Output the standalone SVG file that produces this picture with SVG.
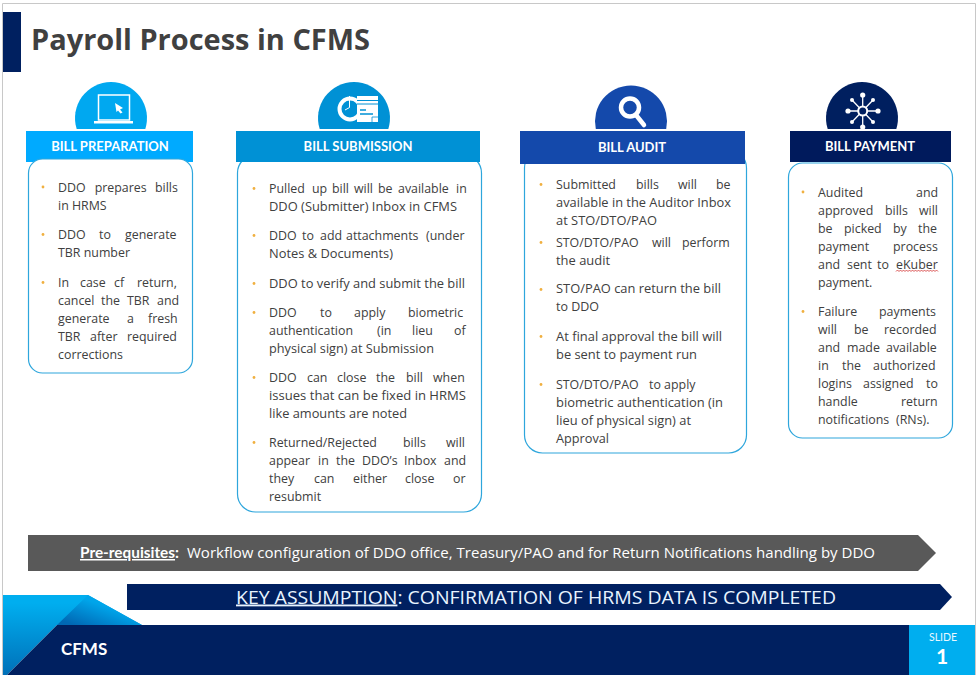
<svg xmlns="http://www.w3.org/2000/svg" width="978" height="675" viewBox="0 0 978 675">
<style>
.t{font-family:"Open Sans","Noto Sans",sans-serif;font-size:12.4px;fill:#404040}
.h{font-family:"Lato","Open Sans",sans-serif;font-size:13px;font-weight:700;fill:#fff;text-anchor:middle}
.p{fill:#fff;stroke:#2ea6dc;stroke-width:1.2}
.b{fill:#f0b040}
.w{fill:#fff}
.ol{fill:none;stroke:#fff}
</style>
<defs>
<linearGradient id="g1" x1="0" y1="0" x2="0" y2="1"><stop offset="0.1" stop-color="#00aeef"/><stop offset="1" stop-color="#0070b8"/></linearGradient>
<linearGradient id="g2" x1="0.2" y1="1" x2="0.7" y2="0.5"><stop offset="0" stop-color="#0068b4"/><stop offset="1" stop-color="#00a5ea"/></linearGradient>
</defs>
<rect x="0" y="0" width="978" height="675" fill="#fff"/>
<path d="M2.5 675V3.500H975.500V675" fill="none" stroke="#c8c8c8"/>
<g id="title">
<rect x="3" y="12" width="18" height="60" fill="#002060"/>
<text x="31" y="50" font-family="Open Sans" font-size="28.500px" font-weight="700" fill="#404040" textLength="339" lengthAdjust="spacingAndGlyphs">Payroll Process in CFMS</text>
</g>

<g id="bill-preparation">
<path d="M76.700 129A36 36 0 1 1 145.300 129Z" fill="#00a8f0"/>
<rect x="98.500" y="95" width="31" height="25" class="ol" stroke-width="1.500"/>
<rect x="94" y="121" width="39" height="2.500" class="w"/>
<path d="M115 103L123 108L120 109.500L122.500 112.500L120.500 113.500L118 110.500L116.500 112Z" class="w"/>
<rect x="26" y="131" width="167" height="31" fill="#00aaff"/>
<text x="110" y="151" class="h">BILL PREPARATION</text>
<rect x="28.500" y="159" width="164" height="214" rx="14" class="p"/>
<circle cx="43" cy="187" r="1.400" class="b"/><circle cx="43" cy="234.500" r="1.400" class="b"/><circle cx="43" cy="282.500" r="1.400" class="b"/>
<text class="t" y="192"><tspan x="58">DDO </tspan><tspan x="94.700">prepares </tspan><tspan x="155">bills</tspan></text>
<text class="t" y="210" x="58">in HRMS</text>
<text class="t" y="239"><tspan x="58">DDO </tspan><tspan x="99">to </tspan><tspan x="125">generate</tspan></text>
<text class="t" y="257" x="58">TBR number</text>
<text class="t" y="287"><tspan x="58">In </tspan><tspan x="80">case </tspan><tspan x="114">cf </tspan><tspan x="137">return,</tspan></text>
<text class="t" y="305"><tspan x="58">cancel </tspan><tspan x="101">the </tspan><tspan x="127">TBR </tspan><tspan x="157">and</tspan></text>
<text class="t" y="323"><tspan x="58">generate </tspan><tspan x="127">a </tspan><tspan x="148">fresh</tspan></text>
<text class="t" y="341"><tspan x="58">TBR </tspan><tspan x="90">after </tspan><tspan x="127">required</tspan></text>
<text class="t" y="359" x="58">corrections</text>
</g>

<g id="bill-submission">
<path d="M319.700 129A36 36 0 1 1 388.300 129Z" fill="#0091d5"/>
<circle cx="350" cy="109" r="10.500" class="ol" stroke-width="4"/>
<path d="M349.500 96V107.500L345 110" class="ol"/>
<rect x="357" y="96" width="21" height="26" class="w"/>
<path d="M357 100.500H378M357 104H378" fill="none" stroke="#0091d5"/>
<path d="M360 110H366M360 114H373" fill="none" stroke="#0091d5" stroke-width="1.500"/>
<path d="M372 122V117H378" fill="none" stroke="#0091d5" stroke-width="0.800"/>
<rect x="237.500" y="155" width="244" height="357" rx="18" class="p"/>
<rect x="236" y="131" width="244" height="31" fill="#0091d5"/>
<text x="358" y="151" class="h">BILL SUBMISSION</text>
<circle cx="254" cy="188.500" r="1.400" class="b"/><circle cx="254" cy="235.500" r="1.400" class="b"/><circle cx="254" cy="283.500" r="1.400" class="b"/><circle cx="254" cy="312.500" r="1.400" class="b"/><circle cx="254" cy="377.500" r="1.400" class="b"/><circle cx="254" cy="442.500" r="1.400" class="b"/>
<text class="t" y="193"><tspan x="269">Pulled </tspan><tspan x="312">up </tspan><tspan x="332">bill </tspan><tspan x="354">will </tspan><tspan x="378">be </tspan><tspan x="398">available </tspan><tspan x="456">in</tspan></text>
<text class="t" y="211" x="269" textLength="188" lengthAdjust="spacingAndGlyphs">DDO (Submitter) Inbox in CFMS</text>
<text class="t" y="240"><tspan x="269">DDO </tspan><tspan x="302">to </tspan><tspan x="320">add </tspan><tspan x="346">attachments </tspan><tspan x="426">(under</tspan></text>
<text class="t" y="258" x="269" textLength="124" lengthAdjust="spacingAndGlyphs">Notes &amp; Documents)</text>
<text class="t" y="288" x="269" textLength="196" lengthAdjust="spacingAndGlyphs">DDO to verify and submit the bill</text>
<text class="t" y="317"><tspan x="269">DDO </tspan><tspan x="320">to </tspan><tspan x="354">apply </tspan><tspan x="408">biometric</tspan></text>
<text class="t" y="335"><tspan x="269">authentication </tspan><tspan x="377">(in </tspan><tspan x="412">lieu </tspan><tspan x="454">of</tspan></text>
<text class="t" y="353" x="269" textLength="165" lengthAdjust="spacingAndGlyphs">physical sign) at Submission</text>
<text class="t" y="382"><tspan x="269">DDO </tspan><tspan x="307">can </tspan><tspan x="337">close </tspan><tspan x="376">the </tspan><tspan x="406">bill </tspan><tspan x="433">when</tspan></text>
<text class="t" y="400" x="269" textLength="197" lengthAdjust="spacingAndGlyphs">issues that can be fixed in HRMS</text>
<text class="t" y="418" x="269" textLength="138" lengthAdjust="spacingAndGlyphs">like amounts are noted</text>
<text class="t" y="447"><tspan x="269">Returned/Rejected </tspan><tspan x="403">bills </tspan><tspan x="446">will</tspan></text>
<text class="t" y="465"><tspan x="269">appear </tspan><tspan x="318">in </tspan><tspan x="336">the </tspan><tspan x="362">DDO’s </tspan><tspan x="404">Inbox </tspan><tspan x="444">and</tspan></text>
<text class="t" y="483"><tspan x="269">they </tspan><tspan x="314">can </tspan><tspan x="353">either </tspan><tspan x="405">close </tspan><tspan x="453">or</tspan></text>
<text class="t" y="501" x="269">resubmit</text>
</g>

<g id="bill-audit">
<path d="M595.800 129A36 36 0 1 1 666.200 129Z" fill="#1449ab"/>
<circle cx="630" cy="107.500" r="9" class="ol" stroke-width="4.500"/>
<path d="M636 115L644 125" class="ol" stroke-width="4.500" stroke-linecap="round"/>
<rect x="524.500" y="150" width="222" height="303" rx="18" class="p"/>
<rect x="520" y="131" width="225" height="33" fill="#1449ab"/>
<text x="632" y="152" class="h">BILL AUDIT</text>
<circle cx="541" cy="184.500" r="1.400" class="b"/><circle cx="541" cy="242.500" r="1.400" class="b"/><circle cx="541" cy="289.500" r="1.400" class="b"/><circle cx="541" cy="336.500" r="1.400" class="b"/><circle cx="541" cy="384.500" r="1.400" class="b"/>
<text class="t" y="189"><tspan x="556">Submitted </tspan><tspan x="636">bills </tspan><tspan x="678">will </tspan><tspan x="716">be</tspan></text>
<text class="t" y="207" x="556" textLength="175" lengthAdjust="spacingAndGlyphs">available in the Auditor Inbox</text>
<text class="t" y="225" x="556" textLength="101" lengthAdjust="spacingAndGlyphs">at STO/DTO/PAO</text>
<text class="t" y="247"><tspan x="556">STO/DTO/PAO </tspan><tspan x="652">will </tspan><tspan x="682">perform</tspan></text>
<text class="t" y="265" x="556" textLength="54" lengthAdjust="spacingAndGlyphs">the audit</text>
<text class="t" y="293" x="556" textLength="165" lengthAdjust="spacingAndGlyphs">STO/PAO can return the bill</text>
<text class="t" y="311" x="556" textLength="43" lengthAdjust="spacingAndGlyphs">to DDO</text>
<text class="t" y="341" x="556" textLength="166" lengthAdjust="spacingAndGlyphs">At final approval the bill will</text>
<text class="t" y="359" x="556" textLength="141" lengthAdjust="spacingAndGlyphs">be sent to payment run</text>
<text class="t" y="389"><tspan x="556">STO/DTO/PAO </tspan><tspan x="649">to apply</tspan></text>
<text class="t" y="407" x="556" textLength="167" lengthAdjust="spacingAndGlyphs">biometric authentication (in</text>
<text class="t" y="425" x="556" textLength="135" lengthAdjust="spacingAndGlyphs">lieu of physical sign) at</text>
<text class="t" y="443" x="556" textLength="53" lengthAdjust="spacingAndGlyphs">Approval</text>
</g>

<g id="bill-payment">
<path d="M827.700 129A36 36 0 1 1 896.300 129Z" fill="#001f5f"/>
<path d="M862.700 95V127M848 111H878M852 100L873 122M873 100L852 122" class="ol" stroke-width="1.300"/>
<circle cx="862.700" cy="111" r="4.500" fill="#001f5f" stroke="#fff" stroke-width="2"/>
<g class="w"><circle cx="862.700" cy="95" r="2.600"/><circle cx="862.700" cy="127" r="2.600"/><circle cx="848" cy="111" r="2.600"/><circle cx="878" cy="111" r="2.600"/><circle cx="852" cy="100" r="2"/><circle cx="873" cy="100" r="2"/><circle cx="852" cy="122" r="2"/><circle cx="873" cy="122" r="2"/></g>
<rect x="790" y="131" width="161" height="31" fill="#001a5c"/>
<text x="870" y="151" class="h">BILL PAYMENT</text>
<rect x="788.500" y="163" width="164" height="275" rx="14" class="p"/>
<circle cx="803" cy="192" r="1.400" class="b"/><circle cx="803" cy="311.500" r="1.400" class="b"/>
<text class="t" y="197"><tspan x="818">Audited </tspan><tspan x="916">and</tspan></text>
<text class="t" y="215"><tspan x="818">approved </tspan><tspan x="885">bills </tspan><tspan x="919">will</tspan></text>
<text class="t" y="233"><tspan x="818">be </tspan><tspan x="844">picked </tspan><tspan x="893">by </tspan><tspan x="918">the</tspan></text>
<text class="t" y="251"><tspan x="818">payment </tspan><tspan x="893">process</tspan></text>
<text class="t" y="269"><tspan x="818">and </tspan><tspan x="847">sent </tspan><tspan x="877">to </tspan><tspan x="896">eKuber</tspan></text>
<path d="M896 271.500l1.500-1.500 1.500 1.500 1.500-1.500 1.500 1.500 1.500-1.500 1.500 1.500 1.500-1.500 1.500 1.500 1.500-1.500 1.500 1.500 1.500-1.500 1.500 1.500 1.500-1.500 1.500 1.500 1.500-1.500 1.500 1.500 1.500-1.500 1.500 1.500 1.500-1.500 1.500 1.500 1.500-1.500 1.500 1.500 1.500-1.500 1.500 1.500 1.500-1.500 1.500 1.500 1.500-1.500 1.500 1.500" fill="none" stroke="#d03030" stroke-width="0.800"/>
<text class="t" y="287" x="818">payment.</text>
<text class="t" y="316"><tspan x="818">Failure </tspan><tspan x="879">payments</tspan></text>
<text class="t" y="334"><tspan x="818">will </tspan><tspan x="854">be </tspan><tspan x="884">recorded</tspan></text>
<text class="t" y="352"><tspan x="818">and </tspan><tspan x="847">made </tspan><tspan x="886">available</tspan></text>
<text class="t" y="370"><tspan x="818">in </tspan><tspan x="842">the </tspan><tspan x="873">authorized</tspan></text>
<text class="t" y="388"><tspan x="818">logins </tspan><tspan x="863">assigned </tspan><tspan x="926">to</tspan></text>
<text class="t" y="406"><tspan x="818">handle </tspan><tspan x="901">return</tspan></text>
<text class="t" y="424"><tspan x="818">notifications </tspan><tspan x="896">(RNs).</tspan></text>
</g>

<g id="prerequisites">
<polygon points="28,535 918,535 936,553 918,571 28,571" fill="#595959"/>
<text y="558" x="80" font-family="Lato" font-size="15px" fill="#fff" font-weight="700" textLength="99" lengthAdjust="spacingAndGlyphs"><tspan text-decoration="underline">Pre-requisites</tspan>:</text>
<text x="187" y="558" font-family="Open Sans" font-size="14.500px" fill="#fff" textLength="688" lengthAdjust="spacingAndGlyphs">Workflow configuration of DDO office, Treasury/PAO and for Return Notifications handling by DDO</text>
</g>

<g id="key-assumption">
<polygon points="127,584 940,584 952,597 940,610 127,610" fill="#002060"/>
<text x="236" y="603.500" font-family="Open Sans" font-size="18.500px" fill="#e8f4ff" textLength="600" lengthAdjust="spacingAndGlyphs"><tspan text-decoration="underline">KEY ASSUMPTION</tspan>: CONFIRMATION OF HRMS DATA IS COMPLETED</text>
</g>

<g id="footer">
<polygon points="3,595 88,595 142,625 57,625 7,675 3,675" fill="url(#g1)"/>
<polygon points="88,595 142,625 57,625" fill="url(#g2)"/>
<polygon points="57,625 909,625 909,675 7,675" fill="#002060"/>
<rect x="909" y="625" width="66" height="50" fill="#00aeef"/>
<text x="61" y="655" font-family="Lato" font-size="17px" font-weight="700" fill="#fff">CFMS</text>
<text x="943" y="641" font-family="Lato" font-size="10.500px" fill="#e8f8ff" text-anchor="middle">SLIDE</text>
<text x="942" y="664" font-family="Lato" font-size="21px" font-weight="700" fill="#fff" text-anchor="middle">1</text>
</g>
</svg>
